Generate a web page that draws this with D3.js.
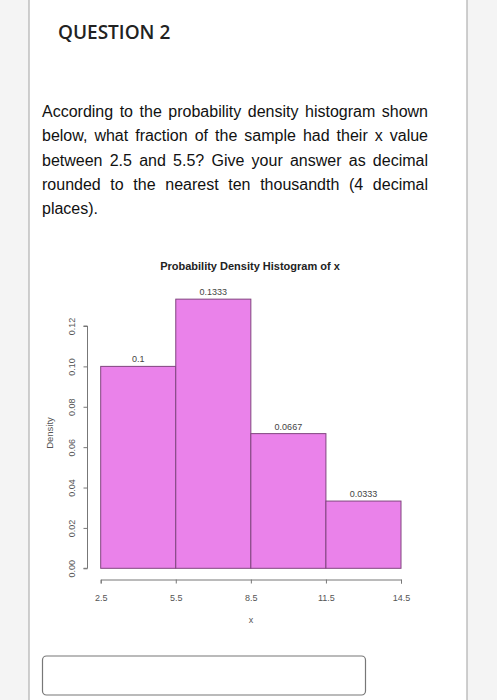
<!DOCTYPE html>
<html lang="en">

<head>
    <meta charset="UTF-8">
    <title>Question 2</title>
    <script src="https://d3js.org/d3.v7.min.js"></script>
    <style>
        body { margin: 0; background: #f4f4f4; }
        #page { position: relative; width: 497px; height: 700px; overflow: hidden; }
        #question {
            position: absolute; left: 42px; top: 100px; width: 386px;
            font-family: "Liberation Sans", Arial, sans-serif; font-size: 16px;
            line-height: 24.3px; color: #111; text-align: justify;
        }
        svg { position: absolute; left: 0; top: 0; }
    </style>
</head>

<body>
    <div id="page">
        <svg width="497" height="700"></svg>
        <div id="question">According to the probability density histogram shown below, what fraction of the sample had their x value between 2.5 and 5.5? Give your answer as decimal rounded to the nearest ten thousandth (4 decimal places).</div>
    </div>

    <script>
        // histogram data
        const breaks = [2.5, 5.5, 8.5, 11.5, 14.5];
        const densities = [0.1, 0.1333, 0.0667, 0.0333];
        const barLabels = ["0.1", "0.1333", "0.0667", "0.0333"];
        const yTicks = [0, 0.02, 0.04, 0.06, 0.08, 0.10, 0.12];
        const xTicks = [2.5, 5.5, 8.5, 11.5, 14.5];

        const bins = densities.map((d, i) => ({ x0: breaks[i], x1: breaks[i + 1], d, label: barLabels[i] }));

        const svg = d3.select('svg');

        // white page panel with side borders
        svg.append('rect')
            .attr('x', 29).attr('y', -2).attr('width', 438).attr('height', 704)
            .attr('fill', '#fff').attr('stroke', '#b0b0b0').attr('stroke-width', 1.2);

        svg.append('text')
            .attr('x', 58).attr('y', 39)
            .attr('font-family', '"Open Sans", sans-serif')
            .attr('font-size', 19).attr('font-weight', 600)
            .attr('fill', '#222')
            .text('QUESTION 2');

        const x = d3.scaleLinear().domain([2.5, 14.5]).range([100.7, 401]);
        const y = d3.scaleLinear().domain([0, 0.12]).range([568.3, 326]);

        const font = '"Liberation Sans", Arial, sans-serif';
        const fs = 9;

        // bars
        svg.append('g')
            .selectAll('rect')
            .data(bins)
            .join('rect')
            .attr('x', d => x(d.x0))
            .attr('y', d => y(d.d))
            .attr('width', d => x(d.x1) - x(d.x0))
            .attr('height', d => y(0) - y(d.d))
            .attr('fill', '#ea82ea')
            .attr('stroke', '#80457f')
            .attr('stroke-width', 1);

        // bar labels
        svg.append('g')
            .selectAll('text')
            .data(bins)
            .join('text')
            .attr('x', d => (x(d.x0) + x(d.x1)) / 2)
            .attr('y', d => y(d.d) - 4)
            .attr('text-anchor', 'middle')
            .attr('font-family', font).attr('font-size', fs)
            .attr('fill', '#444')
            .text(d => d.label);

        // y axis
        const yAxis = svg.append('g')
            .attr('transform', 'translate(87.5,0)')
            .call(d3.axisLeft(y).tickValues(yTicks).tickSize(4).tickFormat(d3.format('.2f')));
        yAxis.select('.domain').attr('stroke', '#777').attr('d', `M-4,${y(0)}H0V${y(0.12)}H-4`);
        yAxis.selectAll('.tick line').attr('stroke', '#777');
        yAxis.selectAll('.tick text')
            .attr('font-family', font).attr('font-size', fs).attr('fill', '#555')
            .attr('dy', 0)
            .attr('text-anchor', 'middle')
            .attr('transform', 'translate(-16,0) rotate(-90)')
            .attr('x', 0).attr('y', 3.5);

        // x axis
        const xAxis = svg.append('g')
            .attr('transform', 'translate(0,579.5)')
            .call(d3.axisBottom(x).tickValues(xTicks).tickSize(4).tickSizeOuter(4).tickFormat(d3.format('.1f')));
        xAxis.select('.domain').attr('stroke', '#777');
        xAxis.selectAll('.tick line').attr('stroke', '#777');
        xAxis.selectAll('.tick text')
            .attr('font-family', font).attr('font-size', fs).attr('fill', '#555')
            .attr('y', 21).attr('dy', 0);

        // titles
        svg.append('text')
            .attr('x', 250).attr('y', 270)
            .attr('text-anchor', 'middle')
            .attr('font-family', font).attr('font-size', 11).attr('font-weight', 'bold')
            .attr('fill', '#222')
            .text('Probability Density Histogram of x');

        svg.append('text')
            .attr('transform', 'translate(52.5,433) rotate(-90)')
            .attr('text-anchor', 'middle')
            .attr('font-family', font).attr('font-size', 9.5)
            .attr('fill', '#555')
            .text('Density');

        svg.append('text')
            .attr('x', 251).attr('y', 623)
            .attr('text-anchor', 'middle')
            .attr('font-family', font).attr('font-size', fs)
            .attr('fill', '#555')
            .text('x');

        // answer box
        svg.append('rect')
            .attr('x', 42.5).attr('y', 656).attr('width', 323).attr('height', 39)
            .attr('rx', 4)
            .attr('fill', '#fff').attr('stroke', '#777').attr('stroke-width', 1.2);
    </script>
</body>

</html>
